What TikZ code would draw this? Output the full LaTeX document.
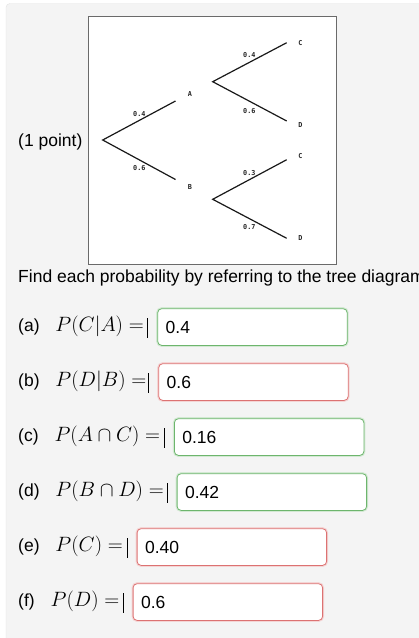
\documentclass[tikz,border=0pt]{standalone}
\usepackage[no-math]{fontspec}
\setmainfont{Liberation Sans}
\newfontfamily\treefont{DejaVu Sans Mono}

\definecolor{panelgray}{HTML}{F4F4F4}
\definecolor{paneledge}{HTML}{E4E4E4}
\definecolor{boxedge}{HTML}{6A6A6A}
\definecolor{okgreen}{HTML}{6DB56D}
\definecolor{badred}{HTML}{DC7272}

\tikzset{
    treeline/.style={line width=1.2pt, draw=black!90},
    treelabel/.style={font=\treefont\bfseries\fontsize{6.8}{7}\selectfont, text=black!85, inner sep=0pt},
    prompt/.style={font=\fontsize{17.5}{20}\selectfont, anchor=base west, inner sep=0pt},
    mathexpr/.style={font=\fontsize{21}{25}\selectfont, anchor=base west, inner sep=0pt},
    answerbox/.style={draw=#1, fill=white, line width=0.8pt, rounded corners=4pt,
        preaction={draw=#1!30, line width=3pt},
        minimum height=36.7pt, text width=173.5pt, inner xsep=8pt, align=left,
        anchor=north west, font=\fontsize{17.5}{20}\selectfont},
    cursor/.style={line width=0.8pt, draw=black}
}

\begin{document}
\begin{tikzpicture}[x=1pt, y=-1pt]
    \pgfmathsetmacro\firstrow{331.7};
    \pgfmathsetmacro\rowgap{55};

    \useasboundingbox (0,0) rectangle (419,638);
    \fill[white] (0,0) rectangle (419,638);
    \clip (0,0) rectangle (419,638);
    \draw[draw=paneledge, fill=panelgray, rounded corners=4pt] (6,3.5) rectangle (440,660);

    \node[prompt] (points) at (18,146.7) {(1 point)};
    \draw[draw=boxedge, fill=white, line width=0.9pt] (88.3,16.3) rectangle (336.7,264.5);

    \coordinate (root) at (102.7,140);
    \coordinate (endA) at (175.5,101);
    \coordinate (endB) at (175.5,179.5);
    \coordinate (forkA) at (212.7,81.7);
    \coordinate (forkB) at (212.7,199.3);
    \coordinate (endAC) at (286.7,42.7);
    \coordinate (endAD) at (286.7,121);
    \coordinate (endBC) at (286.7,159.7);
    \coordinate (endBD) at (286.7,238.3);

    \draw[treeline] (endA) -- (root) -- (endB);
    \draw[treeline] (endAC) -- (forkA) -- (endAD);
    \draw[treeline] (endBC) -- (forkB) -- (endBD);

    \node[treelabel] (lblA) at (190,94) {A};
    \node[treelabel] (lblB) at (190,187.5) {B};
    \node[treelabel] (lblAC) at (300.5,43.5) {C};
    \node[treelabel] (lblAD) at (300.5,125.5) {D};
    \node[treelabel] (lblBC) at (300.5,156.5) {C};
    \node[treelabel] (lblBD) at (300.5,238.5) {D};
    \node[treelabel] (probA) at (139.3,114) {0.4};
    \node[treelabel] (probB) at (139.3,168.5) {0.6};
    \node[treelabel] (probAC) at (249.3,55.3) {0.4};
    \node[treelabel] (probAD) at (249.3,110.7) {0.6};
    \node[treelabel] (probBC) at (249.3,172.7) {0.3};
    \node[treelabel] (probBD) at (249.3,227.3) {0.7};

    \node[prompt] (intro) at (18,282) {Find each probability by referring to the tree diagram};

    \foreach \lbl/\expr/\bx/\ans/\col [count=\i] in {
        a/{P(C|A)}/157.3/0.4/okgreen,
        b/{P(D|B)}/158.3/0.6/badred,
        c/{P(A\cap C)}/174/0.16/okgreen,
        d/{P(B\cap D)}/176.7/0.42/okgreen,
        e/{P(C)}/136.7/0.40/badred,
        f/{P(D)}/132.7/0.6/badred} {
        \pgfmathsetmacro\rowy{\firstrow + (\i - 1) * \rowgap}
        \node[prompt] (part-\lbl) at (18,\rowy) {(\lbl)};
        \node[mathexpr] (expr-\lbl) at ([xshift=15.5pt]part-\lbl.base east) {$\expr=$};
        \node[answerbox=\col] (ans-\lbl) at ({\bx},{\rowy - 23.4}) {\ans};
        \draw[cursor] ({\bx - 9.5},{\rowy - 13.7}) -- ({\bx - 9.5},{\rowy + 6});
    }
\end{tikzpicture}
\end{document}
